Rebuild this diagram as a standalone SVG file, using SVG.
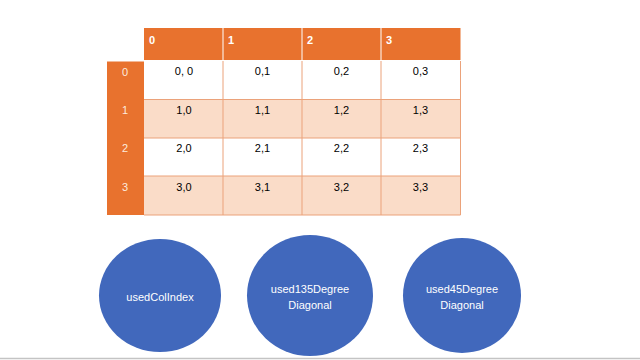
<svg xmlns="http://www.w3.org/2000/svg" width="640" height="360" viewBox="0 0 640 360">
<style>
.hdr{fill:#E8722E}
.wc{fill:#FFFFFF}
.lc{fill:#FADCC8}
.grid{stroke:#EBA27A;stroke-width:1;fill:none}
.ht{font-family:"Liberation Sans",Arial,sans-serif;font-size:11px;font-weight:bold;fill:#FFFFFF}
.rt{font-family:"Liberation Sans",Arial,sans-serif;font-size:11px;fill:#FDEBDD;text-anchor:middle}
.ct{font-family:"Liberation Sans",Arial,sans-serif;font-size:11px;fill:#000000;text-anchor:middle}
.node{fill:#4168BC}
.nt{font-family:"Liberation Sans",Arial,sans-serif;font-size:11px;fill:#FFFFFF;text-anchor:middle}
</style>
<rect width="640" height="360" fill="#FFFFFF"/>
<g id="table">
<rect class="hdr" x="144" y="28" width="316.5" height="32"/>
<line x1="223" y1="28" x2="223" y2="60" stroke="#FFFFFF" stroke-width="1"/>
<line x1="302" y1="28" x2="302" y2="60" stroke="#FFFFFF" stroke-width="1"/>
<line x1="381" y1="28" x2="381" y2="60" stroke="#FFFFFF" stroke-width="1"/>
<rect class="hdr" x="107" y="61.5" width="37" height="153.5"/>
<rect class="wc" x="144" y="61" width="316.5" height="38.5"/>
<rect class="lc" x="144" y="99.5" width="316.5" height="38.5"/>
<rect class="wc" x="144" y="138" width="316.5" height="38"/>
<rect class="lc" x="144" y="176" width="316.5" height="39"/>
<line class="grid" x1="144" y1="99.5" x2="460.5" y2="99.5"/>
<line class="grid" x1="144" y1="138" x2="460.5" y2="138"/>
<line class="grid" x1="144" y1="176" x2="460.5" y2="176"/>
<line class="grid" x1="144" y1="215" x2="460.5" y2="215"/>
<line class="grid" x1="223" y1="61" x2="223" y2="215"/>
<line class="grid" x1="302" y1="61" x2="302" y2="215"/>
<line class="grid" x1="381" y1="61" x2="381" y2="215"/>
<line class="grid" x1="460.5" y1="61" x2="460.5" y2="215"/>
<text class="ht" x="149" y="44">0</text>
<text class="ht" x="228" y="44">1</text>
<text class="ht" x="307" y="44">2</text>
<text class="ht" x="386" y="44">3</text>
<text class="rt" x="125" y="76">0</text>
<text class="rt" x="125" y="114">1</text>
<text class="rt" x="125" y="152">2</text>
<text class="rt" x="125" y="191">3</text>
<text class="ct" x="184" y="75">0, 0</text>
<text class="ct" x="262.5" y="75">0,1</text>
<text class="ct" x="341.5" y="75">0,2</text>
<text class="ct" x="420.5" y="75">0,3</text>
<text class="ct" x="184" y="114">1,0</text>
<text class="ct" x="262.5" y="114">1,1</text>
<text class="ct" x="341.5" y="114">1,2</text>
<text class="ct" x="420.5" y="114">1,3</text>
<text class="ct" x="184" y="152">2,0</text>
<text class="ct" x="262.5" y="152">2,1</text>
<text class="ct" x="341.5" y="152">2,2</text>
<text class="ct" x="420.5" y="152">2,3</text>
<text class="ct" x="184" y="191">3,0</text>
<text class="ct" x="262.5" y="191">3,1</text>
<text class="ct" x="341.5" y="191">3,2</text>
<text class="ct" x="420.5" y="191">3,3</text>
</g>
<g id="node-usedColIndex">
<ellipse class="node" cx="160" cy="295.5" rx="61" ry="56.5"/>
<text class="nt" x="160" y="300.5">usedColIndex</text>
</g>
<g id="node-used135">
<ellipse class="node" cx="310" cy="295.5" rx="63" ry="60.5"/>
<text class="nt" x="310" y="293">used135Degree</text>
<text class="nt" x="310" y="309">Diagonal</text>
</g>
<g id="node-used45">
<ellipse class="node" cx="462" cy="295.5" rx="59" ry="57.5"/>
<text class="nt" x="462" y="293">used45Degree</text>
<text class="nt" x="462" y="309">Diagonal</text>
</g>
<g id="connectors"></g>
<line x1="0" y1="358.5" x2="640" y2="358.5" stroke="#C4C4C4" stroke-width="1.5"/>
</svg>
